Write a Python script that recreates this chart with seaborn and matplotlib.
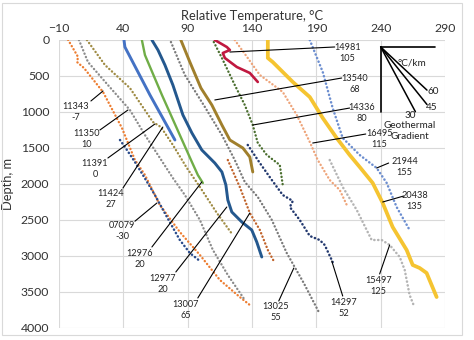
import matplotlib
matplotlib.use("Agg")
import matplotlib.pyplot as plt
import pandas as pd
import seaborn as sns
from matplotlib.patches import Rectangle

sns.set_theme(style="whitegrid")
plt.rcParams["font.family"] = ["Lato", "DejaVu Sans"]

# ---- Temperature profiles: relative temperature (°C) vs depth (m) ----
t_11343 = [-3.0, 4.8, 4.0, 9.4, 24.2, 38.9, 49.0, 56.8, 68.4, 83.9, 99.5, 115.0, 130.5, 138.3]
d_11343 = [0, 240, 310, 393, 726, 1226, 1671, 1879, 2296, 2671, 2990, 3337, 3574, 3685]

t_11350 = [5.5, 12.5, 28.0, 45.1, 56.8, 66.9, 78.5, 87.8, 99.5, 109.6, 121.2, 134.4]
d_11350 = [4, 310, 629, 976, 1324, 1601, 1921, 2157, 2504, 2921, 3268, 3615]

t_11391 = [11.7, 25.7, 45.1, 63.0, 69.2, 78.5, 89.4, 99.5, 112.7, 125.1]
d_11391 = [4, 351, 671, 1143, 1213, 1462, 1782, 2046, 2407, 2713]

t_11424 = [40.5, 41.2, 60.7, 80.1]
d_11424 = [4, 101, 768, 1393]

t_07079 = [37.4, 42.8, 49.0, 55.2, 64.5, 73.9, 83.9, 91.7, 99.5]
d_07079 = [1393, 1532, 1699, 1879, 2157, 2463, 2782, 2963, 3074]

t_12976 = [54.4, 56.8, 70.0, 83.9, 93.3, 97.9, 101.8]
d_12976 = [4, 213, 768, 1324, 1699, 1879, 1990]

t_12977 = [62.2, 66.9, 72.3, 78.5, 86.3, 93.3, 101.0, 111.1, 116.6, 119.7, 121.2,
           124.3, 132.1, 139.8, 143.7, 147.6]
d_12977 = [4, 143, 351, 629, 1046, 1296, 1532, 1713, 1837, 2018, 2226,
           2393, 2532, 2643, 2810, 3018]

t_13007 = [121.2, 130.5, 138.3, 146.1, 152.3, 157.7]
d_13007 = [1671, 2046, 2407, 2643, 2921, 3101]

t_13025 = [77.0, 87.8, 103.4, 116.6, 126.6, 134.4, 144.5, 155.4, 167.0, 180.2, 191.9]
d_13025 = [32, 490, 935, 1324, 1671, 1976, 2185, 2504, 2963, 3379, 3782]

t_13540 = [84.7, 91.7, 100.3, 108.8, 116.6, 122.8, 132.9, 138.3, 140.6]
d_13540 = [4, 310, 671, 907, 1185, 1393, 1504, 1629, 1837]

t_14981 = [111.1, 120.4, 122.8, 117.3, 118.9, 128.2, 138.3, 144.5]
d_14981 = [4, 101, 143, 185, 254, 379, 462, 587]

t_14336 = [110.3, 116.6, 126.6, 134.4, 140.6, 144.5, 151.5, 161.6, 163.9]
d_14336 = [32, 254, 629, 907, 1185, 1435, 1601, 1740, 2018]

t_16495 = [126.6, 136.7, 146.1, 163.9, 174.8, 184.9, 191.1, 200.4, 208.2, 214.4]
d_16495 = [4, 254, 490, 726, 1046, 1421, 1671, 1949, 2088, 2324]

t_20438 = [152.3, 152.3, 156.1, 171.7, 184.9, 195.0, 205.8, 215.9, 223.7, 233.8,
           241.6, 249.3, 260.2, 264.9, 270.3, 275.7, 283.5]
d_20438 = [0, 254, 310, 587, 796, 1088, 1365, 1601, 1768, 1990,
           2268, 2601, 2921, 3129, 3171, 3240, 3574]

t_21944 = [184.9, 195.0, 202.7, 210.5, 223.7, 236.9, 244.7, 252.4, 262.5]
d_21944 = [4, 449, 949, 1365, 1601, 1782, 1990, 2324, 2643]

t_14297 = [136.7, 146.1, 155.4, 163.9, 171.7, 169.4, 177.1, 184.9, 192.6, 196.5, 202.7]
d_14297 = [1462, 1713, 1949, 2157, 2240, 2324, 2504, 2726, 2782, 2851, 3088]

t_15497 = [200.4, 210.5, 221.4, 233.0, 240.8, 247.0, 254.8, 258.7, 262.5, 265.6]
d_15497 = [1671, 2046, 2365, 2782, 2782, 2851, 3018, 3199, 3546, 3685]

# Well identifiers and the temperature offsets applied to each profile
well_ids = ["11343", "11350", "11391", "11424", "07079", "12976", "12977", "13007",
            "13025", "14297", "15497", "20438", "21944", "16495", "14336", "13540", "14981"]
offsets = [-7, 10, 0, 27, -30, 20, 20, 65, 55, 52, 125, 135, 155, 115, 80, 68, 105]

profiles = {
    "11343": (t_11343, d_11343), "11350": (t_11350, d_11350), "11391": (t_11391, d_11391),
    "11424": (t_11424, d_11424), "07079": (t_07079, d_07079), "12976": (t_12976, d_12976),
    "12977": (t_12977, d_12977), "13007": (t_13007, d_13007), "13025": (t_13025, d_13025),
    "14297": (t_14297, d_14297), "15497": (t_15497, d_15497), "20438": (t_20438, d_20438),
    "21944": (t_21944, d_21944), "16495": (t_16495, d_16495), "14336": (t_14336, d_14336),
    "13540": (t_13540, d_13540), "14981": (t_14981, d_14981),
}

# Geothermal gradient key (°C/km)
gradients = [60, 45, 30]

# ---- Styles ----
DOT = (0, (0.1, 1.45))
styles = {
    "11343": ("#ED7D31", DOT, 1.7),
    "11350": ("#8C8C8C", DOT, 1.7),
    "11391": ("#A08C45", DOT, 1.7),
    "11424": ("#4472C4", "-", 2.1),
    "07079": ("#2B4C8C", DOT, 1.8),
    "12976": ("#70AD47", "-", 1.7),
    "12977": ("#24588E", "-", 2.1),
    "13007": ("#C0622A", DOT, 1.7),
    "13025": ("#7A7A7A", DOT, 1.7),
    "14297": ("#22386E", DOT, 1.8),
    "15497": ("#B4B4B4", DOT, 1.8),
    "20438": ("#F5C431", "-", 2.7),
    "21944": ("#6C8ED0", DOT, 1.8),
    "16495": ("#EEA47A", DOT, 1.7),
    "14336": ("#4A6E2E", DOT, 1.7),
    "13540": ("#A07F2C", "-", 2.1),
    "14981": ("#C0183F", "-", 1.9),
}

# Label placement: text centre (T, D), leader start (T, D), leader end on the profile (T, D)
label_layout = {
    "11343": ((3.2, 1004), (14.8, 851), (24.2, 712)),
    "11350": ((11.7, 1379), (21.8, 1254), (43.6, 976)),
    "11391": ((18.0, 1796), (28.0, 1643), (64.5, 1171)),
    "11424": ((30.4, 2213), (39.7, 2060), (70.7, 1213)),
    "07079": ((38.9, 2657), (49.0, 2521), (66.1, 2268)),
    "12976": ((52.9, 3046), (62.2, 2879), (101.0, 1976)),
    "12977": ((70.7, 3393), (80.8, 3226), (120.4, 2324)),
    "13007": ((88.6, 3754), (97.9, 3587), (138.3, 2407)),
    "13025": ((158.5, 3782), (160.8, 3629), (172.5, 3171)),
    "14297": ((211.3, 3726), (210.5, 3560), (202.0, 3074)),
    "15497": ((238.5, 3421), (239.2, 3254), (247.0, 2851)),
    "20438": ((266.4, 2240), (257.9, 2171), (241.6, 2254)),
    "21944": ((258.7, 1768), (246.2, 1713), (236.9, 1782)),
    "16495": ((239.2, 1379), (228.4, 1310), (187.2, 1435)),
    "14336": ((225.2, 1018), (215.9, 949), (140.6, 1185)),
    "13540": ((219.8, 615), (209.7, 532), (111.1, 837)),
    "14981": ((214.4, 185), (204.3, 101), (122.8, 171)),
}

fig = plt.figure(figsize=(4.74, 3.40), dpi=100)
fig.patch.set_facecolor("white")
ax = fig.add_axes([0.1245, 0.0362, 0.8143, 0.847])

rows = []
for wid in well_ids:
    t, d = profiles[wid]
    rows.append(pd.DataFrame({"temp": t, "depth": d, "well": wid}))
df = pd.concat(rows, ignore_index=True)

for wid in well_ids:
    color, ls, lw = styles[wid]
    sub = df[df["well"] == wid]
    sns.lineplot(data=sub, x="temp", y="depth", sort=False, estimator=None,
                 color=color, linestyle=ls, linewidth=lw, ax=ax,
                 dash_capstyle="round", solid_capstyle="round", legend=False)

# Leader lines and labels
for wid, off in zip(well_ids, offsets):
    (tx, ty), (sx, sy), (ex, ey) = label_layout[wid]
    ax.plot([sx, ex], [sy, ey], color="black", lw=0.8, zorder=4)
    ax.text(tx, ty, f"{wid}\n{off}", ha="center", va="center", fontsize=6.6,
            linespacing=1.3, color="#222222", zorder=5)

# Geothermal gradient key
origin_t, origin_d = 240, 100
ax.plot([origin_t, origin_t], [origin_d, 1000], color="black", lw=1.2, zorder=4)
ax.plot([origin_t, 282], [origin_d, origin_d], color="black", lw=1.2, zorder=4)
key_depths = {60: 600, 45: 800, 30: 900}
key_labels = {60: (280.5, 713), 45: (280.0, 935), 30: (262.7, 1046)}
for g in gradients:
    dd = key_depths[g]
    ax.plot([origin_t, origin_t + g * dd / 1000.0], [origin_d, origin_d + dd],
            color="black", lw=1.1, zorder=4)
    lx, ly = key_labels[g]
    ax.text(lx, ly, str(g), ha="center", va="center", fontsize=7.2, color="#222222")
ax.text(263.9, 325, "°C/km", ha="center", va="center", fontsize=7.2, color="#222222")
ax.text(262.7, 1190, "Geothermal", ha="center", va="center", fontsize=7.2, color="#222222")
ax.text(262.7, 1345, "Gradient", ha="center", va="center", fontsize=7.2, color="#222222")

# Axes
ax.set_xlim(-10, 290)
ax.set_ylim(4000, 0)
ax.set_xticks(range(-10, 291, 50))
ax.set_yticks(range(0, 4001, 500))
ax.xaxis.tick_top()
ax.xaxis.set_label_position("top")
ax.set_xlabel("Relative Temperature, °C", fontsize=9.3, labelpad=2, color="#333333")
ax.set_ylabel("Depth, m", fontsize=9.3, labelpad=5, color="#333333")
ax.tick_params(axis="both", length=0, labelsize=8.8, colors="#333333")
ax.tick_params(axis="x", pad=4)
ax.tick_params(axis="y", pad=7)
ax.grid(True, color="#D9D9D9", lw=0.8)
ax.set_facecolor("white")
for s in ax.spines.values():
    s.set_visible(False)

# Chart-area frame
fig.patches.append(Rectangle((2 / 474, 1 - 335 / 340), 460 / 474, 332 / 340,
                             transform=fig.transFigure, fill=False,
                             edgecolor="#D9D9D9", lw=0.8))

fig.savefig("out.png", dpi=100)
